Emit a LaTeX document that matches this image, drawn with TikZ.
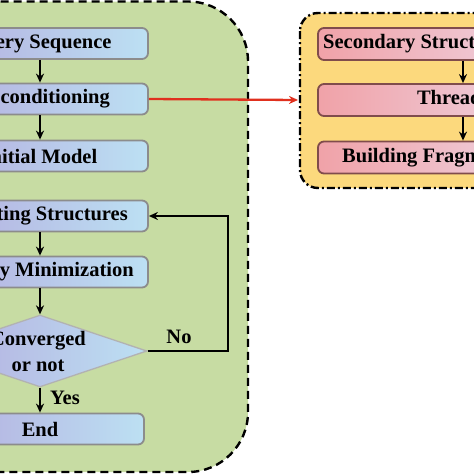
\documentclass[tikz,border=0pt]{standalone}
\usepackage{fontspec}
\setmainfont{Liberation Serif}
\usetikzlibrary{arrows.meta,shapes.geometric}
\definecolor{greenbg}{HTML}{C7DCA3}
\definecolor{orangebg}{HTML}{FCD97D}
\definecolor{lpurple}{HTML}{B4ACDE}
\definecolor{lblue}{HTML}{BCE0F3}
\definecolor{lpink}{HTML}{F0A2A8}
\definecolor{llav}{HTML}{EEE2F2}
\definecolor{redarrow}{HTML}{E0301E}
\tikzset{
  lbox/.style={draw=black!45, line width=1.8pt, rounded corners=6pt, left color=lpurple, right color=lblue, minimum width=216pt, minimum height=31pt, inner sep=0pt},
  rbox/.style={draw=black!50!red!40!gray, line width=1.8pt, rounded corners=6pt, left color=lpink, right color=llav, minimum width=290pt, minimum height=32pt, inner sep=0pt},
  dia/.style={diamond, draw=black!30, line width=1.3pt, left color=lpurple, right color=lblue, minimum width=214pt, minimum height=72pt, inner sep=0pt},
  txt/.style={font=\bfseries\fontsize{20.5pt}{22pt}\selectfont, inner sep=0pt, align=center},
  flow/.style={-{Stealth[length=9pt,width=8pt]}, line width=2.3pt, black},
}
\begin{document}
\begin{tikzpicture}[x=1pt,y=-1pt]
\useasboundingbox (0,0) rectangle (474,474);
\clip (0,0) rectangle (474,474);
% background panels
\draw[fill=greenbg, line width=2.4pt, dash pattern=on 8pt off 5pt, rounded corners=60pt] (-100,1.5) rectangle (248,472);
\draw[fill=orangebg, line width=2.4pt, dash pattern=on 8pt off 3pt on 2pt off 3pt, rounded corners=18pt] (300,13) rectangle (620,188);
% left flow
\node[lbox] (q) at (40,43.5) {};
\node[txt] at (q) {Query Sequence};
\node[lbox] (p) at (40,99) {};
\node[txt] at (p) {Preconditioning};
\node[lbox] (i) at (40,156) {};
\node[txt] at (i) {Initial Model};
\node[lbox] (s) at (40,216) {};
\node[txt] at (s) {Selecting Structures};
\node[lbox] (e) at (40,272) {};
\node[txt] at (e) {Energy Minimization};
\node[dia] (c) at (40,351) {};
\node[txt, font=\bfseries\fontsize{20.5pt}{26pt}\selectfont] at (38,351) {Converged\\or not};
\node[lbox, minimum width=208pt] (end) at (40,429) {};
\node[txt] at (end) {End};
\draw[flow] (q) -- (p);
\draw[flow] (p) -- (i);
\draw[flow] (s) -- (e);
\draw[flow] (e) -- (c);
\draw[flow] (c) -- (end);
\node[txt] at (65,398) {Yes};
\coordinate (lc) at (228,351);
\coordinate (ls) at (228,216);
\draw[flow] (c.east) -- (lc) -- (ls) -- (s.east);
\node[txt] at (179,337) {No};
% right flow
\node[rbox] (ss) at (463,44) {};
\node[txt, anchor=west] at (323,44) {Secondary Structure};
\node[rbox] (th) at (463,100) {};
\node[txt] at (th) {Threading};
\node[rbox] (bf) at (463,157.5) {};
\node[txt, anchor=west] at (342,157.5) {Building Fragments};
\draw[flow] (ss) -- (th);
\draw[flow] (th) -- (bf);
% red link
\coordinate (ob) at (298,100);
\draw[-{Stealth[length=9pt,width=8pt]}, line width=2.3pt, redarrow] (p.east) -- (ob);
\end{tikzpicture}
\end{document}
